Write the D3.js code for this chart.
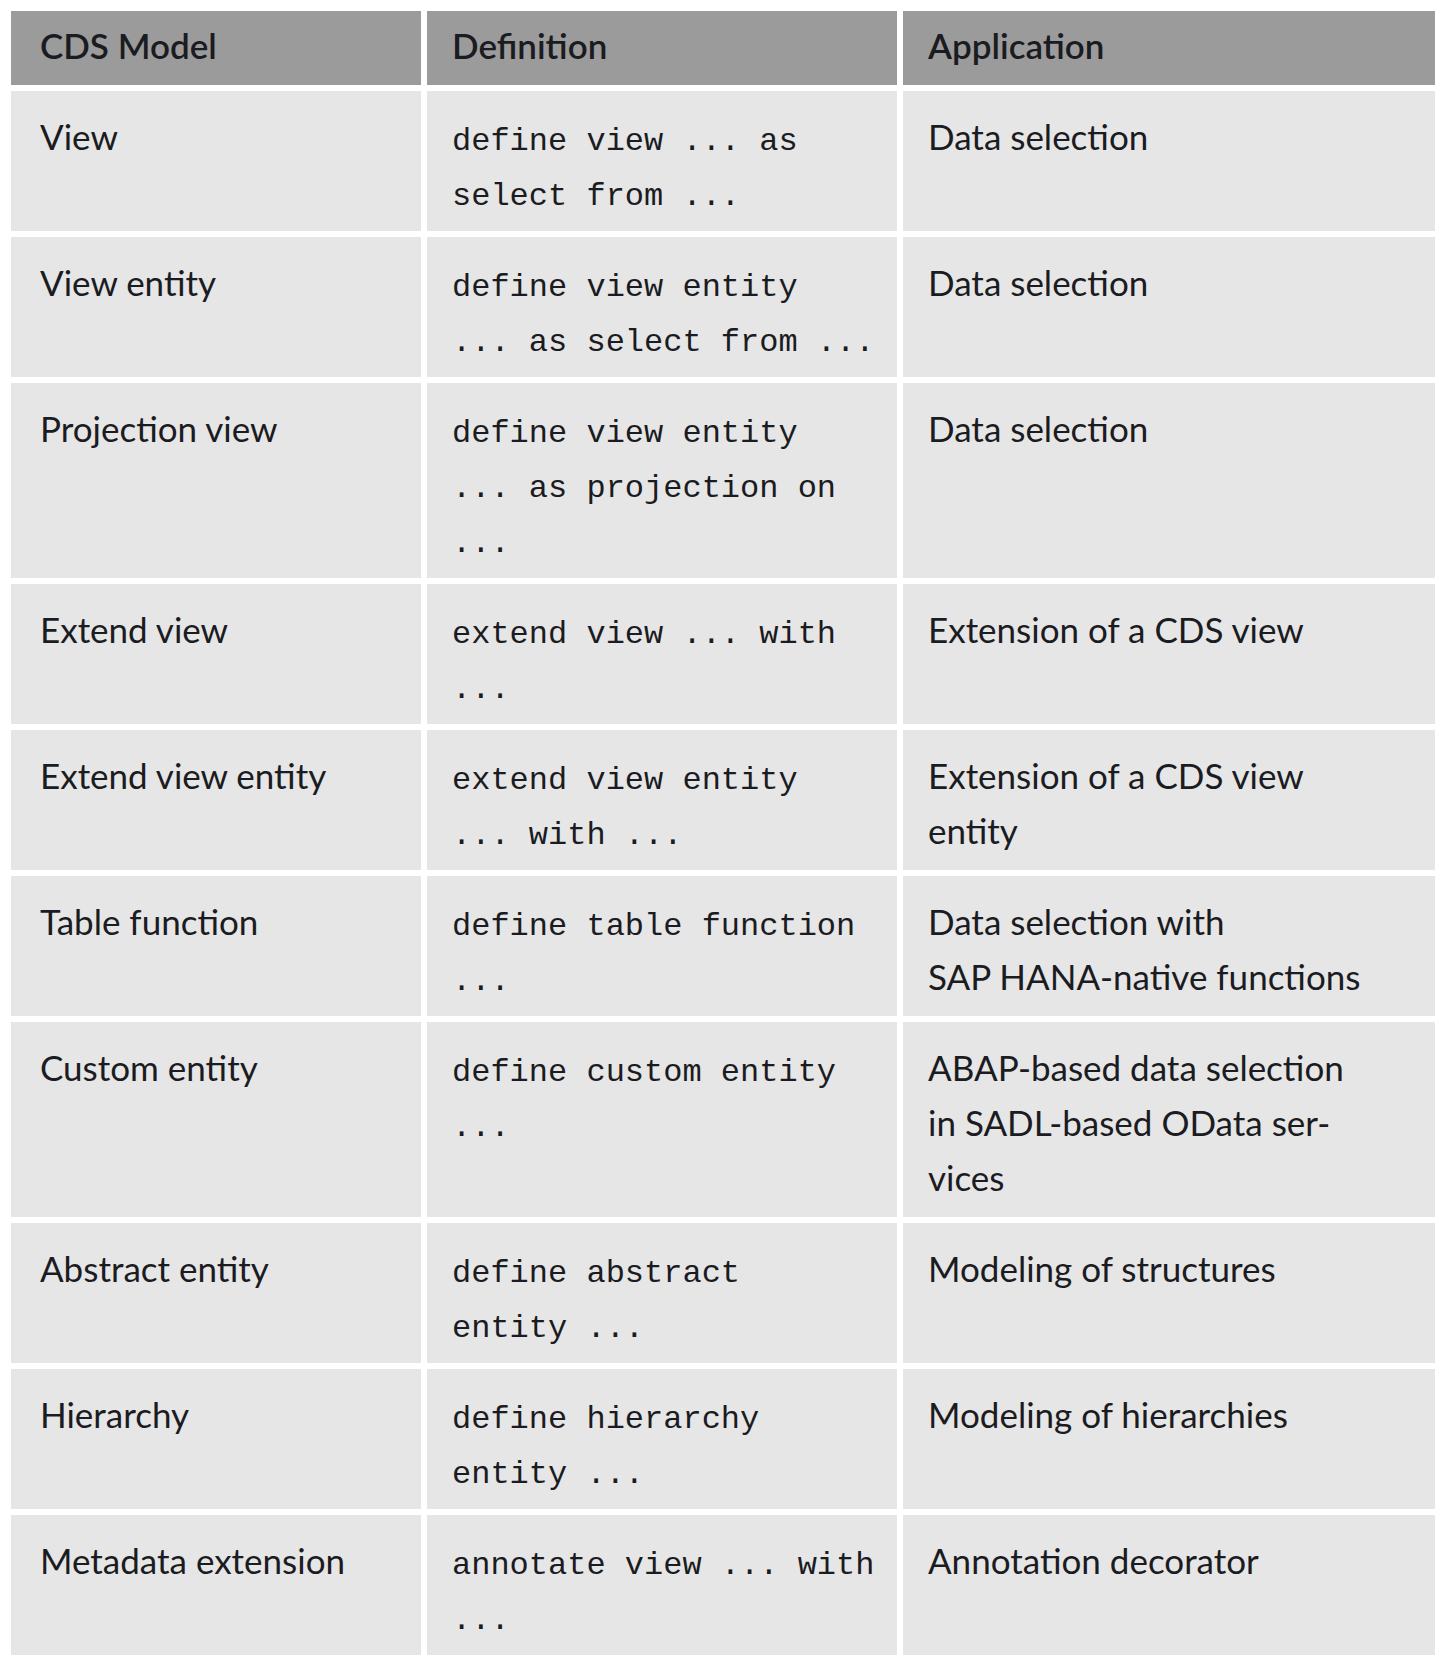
<!DOCTYPE html>
<html><head><meta charset="utf-8">
<script src="https://cdn.jsdelivr.net/npm/d3@7"></script>
<style>body{margin:0;background:#fff}</style>
</head><body><svg id="t" width="1450" height="1665"></svg>
<script>
const headers = ["CDS Model", "Definition", "Application"];
const models = ["View", "View entity", "Projection view", "Extend view", "Extend view entity",
  "Table function", "Custom entity", "Abstract entity", "Hierarchy", "Metadata extension"];
const definitions = [
  ["define view ... as", "select from ..."],
  ["define view entity", "... as select from ..."],
  ["define view entity", "... as projection on", "..."],
  ["extend view ... with", "..."],
  ["extend view entity", "... with ..."],
  ["define table function", "..."],
  ["define custom entity", "..."],
  ["define abstract", "entity ..."],
  ["define hierarchy", "entity ..."],
  ["annotate view ... with", "..."]
];
const applications = [
  ["Data selection"], ["Data selection"], ["Data selection"],
  ["Extension of a CDS view"], ["Extension of a CDS view", "entity"],
  ["Data selection with", "SAP HANA-native functions"],
  ["ABAP-based data selection", "in SADL-based OData ser-", "vices"],
  ["Modeling of structures"], ["Modeling of hierarchies"], ["Annotation decorator"]
];

const colX = [11, 427, 903, 1441];
const gap = 6, lineH = 55, headerH = 74, tableTop = 11;
const svg = d3.select("#t");
const sans = "Lato, 'Open Sans', sans-serif";
const mono = "'Liberation Mono', 'DejaVu Sans Mono', monospace";

// header
headers.forEach((h, i) => {
  svg.append("rect").attr("x", colX[i]).attr("y", tableTop)
    .attr("width", colX[i + 1] - colX[i] - gap).attr("height", headerH).attr("fill", "#9b9b9b");
  svg.append("text").attr("x", colX[i] + (i ? 25 : 29)).attr("y", tableTop + 48)
    .attr("font-family", sans).attr("font-size", 35).attr("font-weight", 600)
    .attr("fill", "#1b1b22").text(h);
});

const rows = models.map((m, i) => ({
  cells: [[m], definitions[i], applications[i]],
  n: Math.max(2, definitions[i].length, applications[i].length)
}));
let y = tableTop + headerH + gap;
rows.forEach(r => { r.y = y; r.h = 30 + lineH * r.n; y += r.h + gap; });

const g = svg.selectAll("g.row").data(rows).join("g").attr("class", "row")
  .attr("transform", d => `translate(0,${d.y})`);
[0, 1, 2].forEach(c => {
  g.append("rect").attr("x", colX[c]).attr("width", colX[c + 1] - colX[c] - gap)
    .attr("height", d => d.h).attr("fill", "#e6e6e6");
  g.append("text").attr("font-family", c === 1 ? mono : sans)
    .attr("font-size", c === 1 ? 32 : 35).attr("fill", "#1b1b22")
    .selectAll("tspan").data(d => d.cells[c]).join("tspan")
    .attr("x", colX[c] + (c ? 25 : 29)).attr("y", (d, i) => 59 + i * lineH).text(d => d);
});
</script></body></html>
